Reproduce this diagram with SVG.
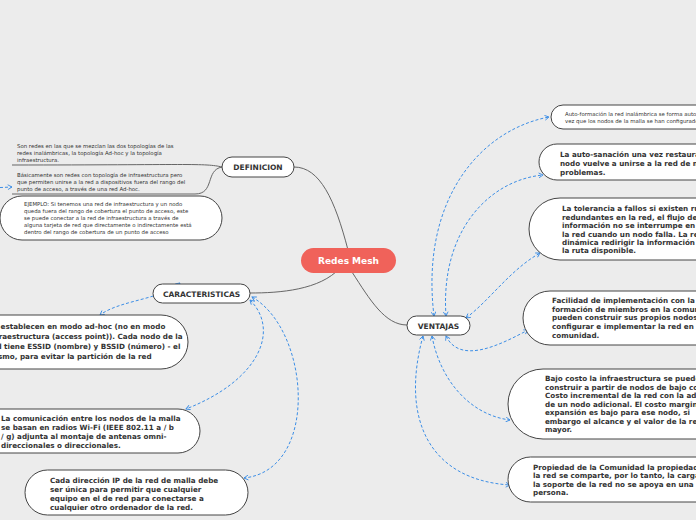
<svg xmlns="http://www.w3.org/2000/svg" width="696" height="520" viewBox="0 0 696 520">
<style>
.bg{fill:#ececec}
.box{fill:#fff;stroke:#444;stroke-width:1}
.t{font-family:"DejaVu Sans",Verdana,sans-serif;font-weight:bold;font-size:7.2px;fill:#333}
.s{font-family:"DejaVu Sans",Verdana,sans-serif;font-size:5.4px;fill:#333}
.h{font-family:"DejaVu Sans",Verdana,sans-serif;font-weight:bold;font-size:7.5px;fill:#333;text-anchor:middle}
.g{fill:none;stroke:#666;stroke-width:1}
.b{fill:none;stroke:#3c8ee6;stroke-width:1;stroke-dasharray:3,2;marker-end:url(#a);marker-start:url(#a)}
</style>
<defs><marker id="a" viewBox="0 0 10 10" refX="8" refY="5" markerWidth="6" markerHeight="6" orient="auto-start-reverse"><path d="M1,1 L8,5 L1,9" fill="none" stroke="#3c8ee6" stroke-width="1.5"/></marker></defs>
<rect class="bg" width="696" height="520"/>
<g id="connectors">
<path class="g" d="M348,250 C335,200 320,167 294,167"/>
<path class="g" d="M340,268 C320,290 280,293 250,293"/>
<path class="g" d="M352,272 C370,300 385,325 407,325"/>
<path class="g" d="M222,167 C205,163 190,165 12,165"/>
<path class="g" d="M222,167 C205,170 215,194 195,194 L12,194"/>
<path class="b" d="M434,316 C420,200 480,130 549,117"/>
<path class="b" d="M446,316 C440,230 490,180 543,175"/>
<path class="b" d="M466,318 C490,300 510,270 540,253"/>
<path class="b" d="M446,336 C460,365 500,345 528,330"/>
<path class="b" d="M432,336 C440,380 470,415 510,420"/>
<path class="b" d="M423,336 C400,420 430,480 510,485"/>
<path class="b" d="M180,283 C160,300 120,300 100,315"/>
<path class="b" d="M250,300 C280,330 260,380 186,409"/>
<path class="b" d="M252,297 C310,330 320,470 244,478"/>
<path class="b" d="M-10,188 L12,187"/>
</g>
<g id="root"><rect x="301" y="248" width="95" height="25" rx="12.5" fill="#f0625a"/><text x="348.5" y="264" font-family="DejaVu Sans,sans-serif" font-weight="bold" font-size="9" fill="#fff" text-anchor="middle">Redes Mesh</text></g>
<g id="definicion"><rect class="box" x="222" y="157" width="72" height="20" rx="10"/><text class="h" x="258" y="170">DEFINICION</text></g>
<g id="caracteristicas"><rect class="box" x="153" y="284" width="97" height="19" rx="9.5"/><text class="h" x="201.5" y="296.5">CARACTERISTICAS</text></g>
<g id="ventajas"><rect class="box" x="407" y="316" width="63" height="19" rx="9.5"/><text class="h" x="438.5" y="328.5">VENTAJAS</text></g>
<g id="def1"><text class="s" x="17" y="148">Son redes en las que se mezclan las dos topologías de las</text><text class="s" x="17" y="155">redes inalámbricas, la topología Ad-hoc y la topología</text><text class="s" x="17" y="162">infraestructura.</text></g>
<g id="def2"><text class="s" x="17" y="177">Básicamente son redes con topología de infraestructura pero</text><text class="s" x="17" y="184">que permiten unirse a la red a dispositivos fuera del rango del</text><text class="s" x="17" y="191">punto de acceso, a través de una red Ad-hoc.</text></g>
<g id="def3"><rect class="box" x="0" y="196" width="222" height="44" rx="22"/><text class="s" x="24" y="206">EJEMPLO: Si tenemos una red de infraestructura y un nodo</text><text class="s" x="24" y="213">queda fuera del rango de cobertura el punto de acceso, este</text><text class="s" x="24" y="220">se puede conectar a la red de infraestructura a través de</text><text class="s" x="24" y="227">alguna tarjeta de red que directamente o indirectamente está</text><text class="s" x="24" y="234">dentro del rango de cobertura de un punto de acceso</text></g>
<g id="car1"><rect class="box" x="-30" y="315" width="218" height="54" rx="27"/><text class="t" x="-12" y="329">Se establecen en modo ad-hoc (no en modo</text><text class="t" x="-12" y="339">infraestructura (access point)). Cada nodo de la</text><text class="t" x="-12" y="349">red tiene ESSID (nombre) y BSSID (número) - el</text><text class="t" x="-12" y="359">mismo, para evitar la partición de la red</text></g>
<g id="car2"><rect class="box" x="-30" y="409" width="230" height="44" rx="22"/><text class="t" x="1" y="421">La comunicación entre los nodos de la malla</text><text class="t" x="1" y="430">se basan en radios Wi-Fi (IEEE 802.11 a / b</text><text class="t" x="1" y="439">/ g) adjunta al montaje de antenas omni-</text><text class="t" x="1" y="448">direccionales o direccionales.</text></g>
<g id="car3"><rect class="box" x="25" y="470" width="223" height="45" rx="22.5"/><text class="t" x="50" y="483">Cada dirección IP de la red de malla debe</text><text class="t" x="50" y="492">ser única para permitir que cualquier</text><text class="t" x="50" y="501">equipo en el de red para conectarse a</text><text class="t" x="50" y="510">cualquier otro ordenador de la red.</text></g>
<g id="ven1"><rect class="box" x="551" y="105" width="180" height="24" rx="12"/><text class="s" x="565" y="116">Auto-formación la red inalámbrica se forma automáticamente una</text><text class="s" x="565" y="123">vez que los nodos de la malla se han configurado</text></g>
<g id="ven2"><rect class="box" x="539" y="144" width="190" height="36" rx="18"/><text class="t" x="560" y="157">La auto-sanación una vez restaurado, el</text><text class="t" x="560" y="166">nodo vuelve a unirse a la red de malla sin</text><text class="t" x="560" y="175">problemas.</text></g>
<g id="ven3"><rect class="box" x="529" y="198" width="200" height="62" rx="31"/><text class="t" x="562" y="211">La tolerancia a fallos si existen rutas</text><text class="t" x="562" y="220">redundantes en la red, el flujo de</text><text class="t" x="562" y="228">información no se interrumpe en el resto de</text><text class="t" x="562" y="237">la red cuando un nodo falla. La red es</text><text class="t" x="562" y="245">dinámica redirigir la información a</text><text class="t" x="562" y="253">la ruta disponible.</text></g>
<g id="ven4"><rect class="box" x="523" y="291" width="210" height="54" rx="27"/><text class="t" x="552" y="303">Facilidad de implementación con la</text><text class="t" x="552" y="312">formación de miembros en la comunidad,</text><text class="t" x="552" y="320">pueden construir sus propios nodos,</text><text class="t" x="552" y="329">configurar e implementar la red en la</text><text class="t" x="552" y="338">comunidad.</text></g>
<g id="ven5"><rect class="box" x="508" y="369" width="225" height="70" rx="35"/><text class="t" x="545" y="381">Bajo costo la infraestructura se puede</text><text class="t" x="545" y="390">construir a partir de nodos de bajo costo.</text><text class="t" x="545" y="398">Costo incremental de la red con la adición</text><text class="t" x="545" y="407">de un nodo adicional. El costo marginal de</text><text class="t" x="545" y="415">expansión es bajo para ese nodo, si</text><text class="t" x="545" y="424">embargo el alcance y el valor de la red es</text><text class="t" x="545" y="432">mayor.</text></g>
<g id="ven6"><rect class="box" x="508" y="457" width="225" height="45" rx="22.5"/><text class="t" x="533" y="470">Propiedad de la Comunidad la propiedad de</text><text class="t" x="533" y="478">la red se comparte, por lo tanto, la carga de</text><text class="t" x="533" y="487">la soporte de la red no se apoya en una sola</text><text class="t" x="533" y="495">persona.</text></g>
</svg>
